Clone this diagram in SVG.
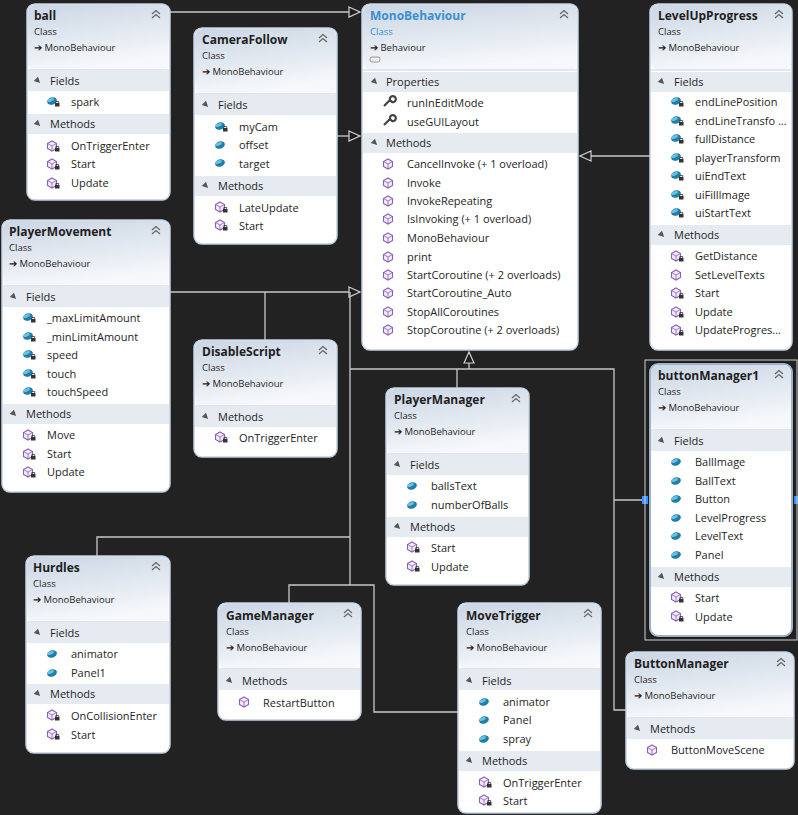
<svg xmlns="http://www.w3.org/2000/svg" xmlns:xlink="http://www.w3.org/1999/xlink" width="798" height="815" viewBox="0 0 798 815">
<style>
text{font-family:"Open Sans","Noto Sans","Liberation Sans",sans-serif;font-size:11px;fill:#1e1e1e}
.n{font-weight:bold;font-size:12px}
.s{font-size:9.5px}
.mn{fill:#3a8fd0}
.box{fill:#fff;stroke:#c3d0df;stroke-width:1.5}
.hd{fill:url(#hg)}
.band{fill:#e6ebf2}
.sep{stroke:#c9d3df;stroke-width:1}
.c{fill:none;stroke:#c8c8c8;stroke-width:1.3}
.tri{fill:#555}
.chev{fill:none;stroke:#666;stroke-width:1.2}
</style>
<defs>
<linearGradient id="hg" x1="0" y1="0" x2="0.3" y2="1"><stop offset="0" stop-color="#cbd6e4"/><stop offset="1" stop-color="#f6f8fb"/></linearGradient>
<marker id="ar" markerWidth="14" markerHeight="14" refX="12" refY="6" orient="auto" markerUnits="userSpaceOnUse"><path d="M1,1 L12,6 L1,11 Z" fill="#1e1e1e" stroke="#d0d0d0" stroke-width="1.2"/></marker>
<g id="fi"><ellipse cx="0" cy="0" rx="5" ry="3.6" fill="#1f7fa8" transform="rotate(-20)"/><ellipse cx="-1" cy="-1.5" rx="3.5" ry="1.6" fill="#6cc0e0" transform="rotate(-20)"/></g>
<g id="mi"><polygon points="0,-5 4.5,-2.5 4.5,2.5 0,5 -4.5,2.5 -4.5,-2.5" fill="#f3ecfa" stroke="#8a5fb8" stroke-width="1.1"/><path d="M-4.5,-2.5 L0,0 L4.5,-2.5 M0,0 V5" stroke="#8a5fb8" stroke-width="0.8" fill="none"/></g>
<g id="lk"><rect x="-2" y="-1" width="4.5" height="3.5" fill="#333"/><path d="M-1.2,-1 V-2.5 H1.7 V-1" stroke="#333" fill="none" stroke-width="0.8"/></g>
<g id="pi"><path d="M-5,5 L1,-1 M1,-1 a3,3 0 1 1 2,2 Z" stroke="#444" stroke-width="2.2" fill="none"/></g>
<g id="ch"><path d="M-4,-1 L0,-4.5 L4,-1 M-4,3 L0,-0.5 L4,3" class="chev"/></g>
<g id="ex"><path d="M-3,-3 L3,0 L-3,3 Z" fill="#555" transform="rotate(45)"/></g>
</defs>
<rect width="798" height="815" fill="#222222"/>

<g id="connectors">
<path class="c" d="M170,12 H360" marker-end="url(#ar)"/>
<path class="c" d="M337,136 H360" marker-end="url(#ar)"/>
<path class="c" d="M650,156 H580" marker-end="url(#ar)"/>
<path class="c" d="M170,292 H360" marker-end="url(#ar)"/>
<path class="c" d="M265,292 V340 M350,292 V585"/>
<path class="c" d="M97,556 V537 H350"/>
<path class="c" d="M289,603 V585 H374 V712 H458"/>
<path class="c" d="M469,369 V352" marker-end="url(#ar)"/>
<path class="c" d="M350,369 H614 V710 H626 M457,369 V388 M614,500 H645"/>
<rect x="642" y="496" width="6" height="8" fill="#3794ff"/>
<rect x="793" y="496" width="5" height="8" fill="#3794ff"/>
</g>

<!-- ball -->
<g id="ball">
<rect class="box" x="27" y="4" width="143" height="196" rx="8"/>
<rect class="hd" x="28" y="5" width="141" height="65" rx="7"/>
<line class="sep" x1="28" y1="70" x2="169" y2="70"/>
<text class="n" x="34" y="20">ball</text><use href="#ch" x="156" y="15"/>
<text class="s" x="34" y="35">Class</text><text class="s" x="34" y="51">➔ MonoBehaviour</text>
<rect class="band" x="28" y="71" width="141" height="20"/><text x="50" y="85">Fields</text><use href="#ex" x="38" y="81"/>
<use href="#fi" x="52" y="101"/><use href="#lk" x="57" y="104"/><text x="71" y="106">spark</text>
<rect class="band" x="28" y="114" width="141" height="20"/><text x="50" y="128">Methods</text><use href="#ex" x="38" y="124"/>
<use href="#mi" x="52" y="146"/><use href="#lk" x="57" y="149"/><text x="71" y="150">OnTriggerEnter</text>
<use href="#mi" x="52" y="164"/><use href="#lk" x="57" y="167"/><text x="71" y="168">Start</text>
<use href="#mi" x="52" y="183"/><use href="#lk" x="57" y="186"/><text x="71" y="187">Update</text>
</g>

<!-- CameraFollow -->
<g id="CameraFollow">
<rect class="box" x="194" y="28" width="143" height="216" rx="8"/>
<rect class="hd" x="195" y="29" width="141" height="65" rx="7"/>
<line class="sep" x1="195" y1="94" x2="336" y2="94"/>
<text class="n" x="202" y="44">CameraFollow</text><use href="#ch" x="323" y="39"/>
<text class="s" x="202" y="59">Class</text><text class="s" x="202" y="75">➔ MonoBehaviour</text>
<rect class="band" x="195" y="95" width="141" height="20"/><text x="218" y="109">Fields</text><use href="#ex" x="206" y="105"/>
<use href="#fi" x="220" y="126"/><use href="#lk" x="225" y="129"/><text x="239" y="131">myCam</text>
<use href="#fi" x="220" y="145"/><text x="239" y="149">offset</text>
<use href="#fi" x="220" y="163"/><text x="239" y="168">target</text>
<rect class="band" x="195" y="176" width="141" height="20"/><text x="218" y="190">Methods</text><use href="#ex" x="206" y="186"/>
<use href="#mi" x="220" y="207"/><use href="#lk" x="225" y="210"/><text x="239" y="212">LateUpdate</text>
<use href="#mi" x="220" y="225"/><use href="#lk" x="225" y="228"/><text x="239" y="230">Start</text>
</g>

<!-- MonoBehaviour -->
<g id="MonoBehaviour">
<rect class="box" x="362" y="4" width="216" height="346" rx="8"/>
<rect class="hd" x="363" y="5" width="214" height="65" rx="7"/>
<line class="sep" x1="363" y1="70" x2="577" y2="70"/>
<text class="n mn" x="370" y="20">MonoBehaviour</text><use href="#ch" x="564" y="15"/>
<text class="s mn" x="370" y="35">Class</text><text class="s" x="370" y="51">➔ Behaviour</text>
<rect x="370" y="57" width="10" height="5" rx="2" fill="#eee" stroke="#888" stroke-width="0.8"/>
<rect class="band" x="363" y="72" width="214" height="20"/><text x="386" y="86">Properties</text><use href="#ex" x="375" y="82"/>
<use href="#pi" x="389" y="101"/><text x="407" y="107">runInEditMode</text>
<use href="#pi" x="389" y="120"/><text x="407" y="126">useGUILayout</text>
<rect class="band" x="363" y="133" width="214" height="20"/><text x="386" y="147">Methods</text><use href="#ex" x="375" y="143"/>
<use href="#mi" x="388" y="164"/><text x="407" y="168">CancelInvoke (+ 1 overload)</text>
<use href="#mi" x="388" y="183"/><text x="407" y="187">Invoke</text>
<use href="#mi" x="388" y="201"/><text x="407" y="205">InvokeRepeating</text>
<use href="#mi" x="388" y="219"/><text x="407" y="223">IsInvoking (+ 1 overload)</text>
<use href="#mi" x="388" y="238"/><text x="407" y="242">MonoBehaviour</text>
<use href="#mi" x="388" y="257"/><text x="407" y="261">print</text>
<use href="#mi" x="388" y="275"/><text x="407" y="279">StartCoroutine (+ 2 overloads)</text>
<use href="#mi" x="388" y="293"/><text x="407" y="297">StartCoroutine_Auto</text>
<use href="#mi" x="388" y="312"/><text x="407" y="316">StopAllCoroutines</text>
<use href="#mi" x="388" y="330"/><text x="407" y="334">StopCoroutine (+ 2 overloads)</text>
</g>

<!-- LevelUpProgress -->
<g id="LevelUpProgress">
<rect class="box" x="650" y="4" width="142" height="346" rx="8"/>
<rect class="hd" x="651" y="5" width="140" height="65" rx="7"/>
<line class="sep" x1="651" y1="70" x2="791" y2="70"/>
<text class="n" x="658" y="20">LevelUpProgress</text><use href="#ch" x="779" y="15"/>
<text class="s" x="658" y="35">Class</text><text class="s" x="658" y="51">➔ MonoBehaviour</text>
<rect class="band" x="651" y="72" width="140" height="20"/><text x="674" y="86">Fields</text><use href="#ex" x="662" y="82"/>
<use href="#fi" x="676" y="101"/><use href="#lk" x="681" y="104"/><text x="695" y="106">endLinePosition</text>
<use href="#fi" x="676" y="120"/><use href="#lk" x="681" y="123"/><text x="695" y="125">endLineTransfo ...</text>
<use href="#fi" x="676" y="138"/><use href="#lk" x="681" y="141"/><text x="695" y="143">fullDistance</text>
<use href="#fi" x="676" y="157"/><use href="#lk" x="681" y="160"/><text x="695" y="162">playerTransform</text>
<use href="#fi" x="676" y="175"/><use href="#lk" x="681" y="178"/><text x="695" y="180">uiEndText</text>
<use href="#fi" x="676" y="194"/><use href="#lk" x="681" y="197"/><text x="695" y="199">uiFillImage</text>
<use href="#fi" x="676" y="212"/><use href="#lk" x="681" y="215"/><text x="695" y="217">uiStartText</text>
<rect class="band" x="651" y="225" width="140" height="20"/><text x="674" y="239">Methods</text><use href="#ex" x="662" y="235"/>
<use href="#mi" x="676" y="256"/><use href="#lk" x="681" y="259"/><text x="695" y="260">GetDistance</text>
<use href="#mi" x="676" y="275"/><text x="695" y="279">SetLevelTexts</text>
<use href="#mi" x="676" y="293"/><use href="#lk" x="681" y="296"/><text x="695" y="297">Start</text>
<use href="#mi" x="676" y="312"/><use href="#lk" x="681" y="315"/><text x="695" y="316">Update</text>
<use href="#mi" x="676" y="330"/><use href="#lk" x="681" y="333"/><text x="695" y="334">UpdateProgres...</text>
</g>

<!-- PlayerMovement -->
<g id="PlayerMovement">
<rect class="box" x="2" y="220" width="168" height="272" rx="8"/>
<rect class="hd" x="3" y="221" width="166" height="65" rx="7"/>
<line class="sep" x1="3" y1="286" x2="169" y2="286"/>
<text class="n" x="9" y="236">PlayerMovement</text><use href="#ch" x="156" y="231"/>
<text class="s" x="9" y="251">Class</text><text class="s" x="9" y="267">➔ MonoBehaviour</text>
<rect class="band" x="3" y="287" width="166" height="20"/><text x="26" y="301">Fields</text><use href="#ex" x="14" y="297"/>
<use href="#fi" x="28" y="317"/><use href="#lk" x="33" y="320"/><text x="47" y="322">_maxLimitAmount</text>
<use href="#fi" x="28" y="336"/><use href="#lk" x="33" y="339"/><text x="47" y="341">_minLimitAmount</text>
<use href="#fi" x="28" y="354"/><use href="#lk" x="33" y="357"/><text x="47" y="359">speed</text>
<use href="#fi" x="28" y="373"/><use href="#lk" x="33" y="376"/><text x="47" y="378">touch</text>
<use href="#fi" x="28" y="391"/><use href="#lk" x="33" y="394"/><text x="47" y="396">touchSpeed</text>
<rect class="band" x="3" y="404" width="166" height="20"/><text x="26" y="418">Methods</text><use href="#ex" x="14" y="414"/>
<use href="#mi" x="28" y="435"/><use href="#lk" x="33" y="438"/><text x="47" y="439">Move</text>
<use href="#mi" x="28" y="454"/><use href="#lk" x="33" y="457"/><text x="47" y="458">Start</text>
<use href="#mi" x="28" y="472"/><use href="#lk" x="33" y="475"/><text x="47" y="476">Update</text>
</g>

<!-- DisableScript -->
<g id="DisableScript">
<rect class="box" x="194" y="340" width="143" height="117" rx="8"/>
<rect class="hd" x="195" y="341" width="141" height="65" rx="7"/>
<line class="sep" x1="195" y1="406" x2="336" y2="406"/>
<text class="n" x="202" y="356">DisableScript</text><use href="#ch" x="323" y="351"/>
<text class="s" x="202" y="371">Class</text><text class="s" x="202" y="387">➔ MonoBehaviour</text>
<rect class="band" x="195" y="407" width="141" height="20"/><text x="218" y="421">Methods</text><use href="#ex" x="206" y="417"/>
<use href="#mi" x="220" y="437"/><use href="#lk" x="225" y="440"/><text x="239" y="442">OnTriggerEnter</text>
</g>

<!-- PlayerManager -->
<g id="PlayerManager">
<rect class="box" x="386" y="388" width="143" height="197" rx="8"/>
<rect class="hd" x="387" y="389" width="141" height="65" rx="7"/>
<line class="sep" x1="387" y1="454" x2="528" y2="454"/>
<text class="n" x="394" y="404">PlayerManager</text><use href="#ch" x="516" y="399"/>
<text class="s" x="394" y="419">Class</text><text class="s" x="394" y="435">➔ MonoBehaviour</text>
<rect class="band" x="387" y="455" width="141" height="20"/><text x="410" y="469">Fields</text><use href="#ex" x="398" y="465"/>
<use href="#fi" x="412" y="486"/><text x="431" y="490">ballsText</text>
<use href="#fi" x="412" y="505"/><text x="431" y="509">numberOfBalls</text>
<rect class="band" x="387" y="517" width="141" height="20"/><text x="410" y="531">Methods</text><use href="#ex" x="398" y="527"/>
<use href="#mi" x="412" y="547"/><use href="#lk" x="417" y="550"/><text x="431" y="552">Start</text>
<use href="#mi" x="412" y="566"/><use href="#lk" x="417" y="569"/><text x="431" y="571">Update</text>
</g>

<!-- buttonManager1 -->
<g id="buttonManager1">
<rect x="645" y="360" width="152" height="280" fill="none" stroke="#d0d0d0" stroke-width="1"/>
<rect x="648" y="362" width="146" height="276" rx="9" fill="#1a1a1a"/>
<rect class="box" x="650" y="364" width="142" height="272" rx="8" style="stroke:#9fb3c8;stroke-width:2"/>
<rect class="hd" x="651" y="365" width="140" height="65" rx="7"/>
<line class="sep" x1="651" y1="430" x2="791" y2="430"/>
<text class="n" x="658" y="380">buttonManager1</text><use href="#ch" x="779" y="375"/>
<text class="s" x="658" y="395">Class</text><text class="s" x="658" y="411">➔ MonoBehaviour</text>
<rect class="band" x="651" y="431" width="140" height="20"/><text x="674" y="445">Fields</text><use href="#ex" x="662" y="441"/>
<use href="#fi" x="676" y="462"/><text x="695" y="466">BallImage</text>
<use href="#fi" x="676" y="481"/><text x="695" y="485">BallText</text>
<use href="#fi" x="676" y="499"/><text x="695" y="503">Button</text>
<use href="#fi" x="676" y="518"/><text x="695" y="522">LevelProgress</text>
<use href="#fi" x="676" y="536"/><text x="695" y="540">LevelText</text>
<use href="#fi" x="676" y="555"/><text x="695" y="559">Panel</text>
<rect class="band" x="651" y="567" width="140" height="20"/><text x="674" y="581">Methods</text><use href="#ex" x="662" y="577"/>
<use href="#mi" x="676" y="597"/><use href="#lk" x="681" y="600"/><text x="695" y="602">Start</text>
<use href="#mi" x="676" y="616"/><use href="#lk" x="681" y="619"/><text x="695" y="621">Update</text>
</g>

<!-- Hurdles -->
<g id="Hurdles">
<rect class="box" x="26" y="556" width="144" height="197" rx="8"/>
<rect class="hd" x="27" y="557" width="142" height="65" rx="7"/>
<line class="sep" x1="27" y1="622" x2="169" y2="622"/>
<text class="n" x="33" y="572">Hurdles</text><use href="#ch" x="156" y="567"/>
<text class="s" x="33" y="587">Class</text><text class="s" x="33" y="603">➔ MonoBehaviour</text>
<rect class="band" x="27" y="623" width="142" height="20"/><text x="50" y="637">Fields</text><use href="#ex" x="38" y="633"/>
<use href="#fi" x="52" y="654"/><text x="71" y="658">animator</text>
<use href="#fi" x="52" y="673"/><text x="71" y="677">Panel1</text>
<rect class="band" x="27" y="684" width="142" height="20"/><text x="50" y="698">Methods</text><use href="#ex" x="38" y="694"/>
<use href="#mi" x="52" y="715"/><use href="#lk" x="57" y="718"/><text x="71" y="720">OnCollisionEnter</text>
<use href="#mi" x="52" y="734"/><use href="#lk" x="57" y="737"/><text x="71" y="739">Start</text>
</g>

<!-- GameManager -->
<g id="GameManager">
<rect class="box" x="218" y="603" width="143" height="117" rx="8"/>
<rect class="hd" x="219" y="604" width="141" height="65" rx="7"/>
<line class="sep" x1="219" y1="669" x2="360" y2="669"/>
<text class="n" x="226" y="620">GameManager</text><use href="#ch" x="348" y="614"/>
<text class="s" x="226" y="635">Class</text><text class="s" x="226" y="651">➔ MonoBehaviour</text>
<rect class="band" x="219" y="670" width="141" height="20"/><text x="242" y="685">Methods</text><use href="#ex" x="230" y="681"/>
<use href="#mi" x="244" y="702"/><text x="263" y="707">RestartButton</text>
</g>

<!-- MoveTrigger -->
<g id="MoveTrigger">
<rect class="box" x="458" y="603" width="143" height="210" rx="8"/>
<rect class="hd" x="459" y="604" width="141" height="65" rx="7"/>
<line class="sep" x1="459" y1="669" x2="600" y2="669"/>
<text class="n" x="466" y="620">MoveTrigger</text><use href="#ch" x="588" y="614"/>
<text class="s" x="466" y="635">Class</text><text class="s" x="466" y="651">➔ MonoBehaviour</text>
<rect class="band" x="459" y="670" width="141" height="20"/><text x="482" y="685">Fields</text><use href="#ex" x="470" y="681"/>
<use href="#fi" x="484" y="702"/><text x="503" y="706">animator</text>
<use href="#fi" x="484" y="720"/><text x="503" y="724">Panel</text>
<use href="#fi" x="484" y="739"/><text x="503" y="743">spray</text>
<rect class="band" x="459" y="751" width="141" height="20"/><text x="482" y="765">Methods</text><use href="#ex" x="470" y="761"/>
<use href="#mi" x="484" y="782"/><use href="#lk" x="489" y="785"/><text x="503" y="787">OnTriggerEnter</text>
<use href="#mi" x="484" y="800"/><use href="#lk" x="489" y="803"/><text x="503" y="805">Start</text>
</g>

<!-- ButtonManager -->
<g id="ButtonManager">
<rect class="box" x="626" y="652" width="168" height="117" rx="8"/>
<rect class="hd" x="627" y="653" width="166" height="65" rx="7"/>
<line class="sep" x1="627" y1="718" x2="793" y2="718"/>
<text class="n" x="634" y="668">ButtonManager</text><use href="#ch" x="781" y="663"/>
<text class="s" x="634" y="683">Class</text><text class="s" x="634" y="699">➔ MonoBehaviour</text>
<rect class="band" x="627" y="719" width="166" height="20"/><text x="650" y="733">Methods</text><use href="#ex" x="638" y="729"/>
<use href="#mi" x="652" y="750"/><text x="671" y="754">ButtonMoveScene</text>
</g>
</svg>
